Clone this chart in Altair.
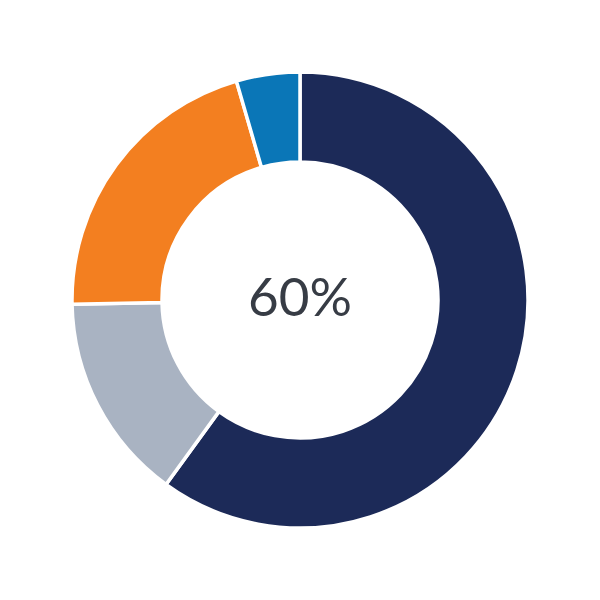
import altair as alt
import pandas as pd

categories = ["A", "B", "C", "D"]
values = [60, 14.7, 20.8, 4.5]
order = [1, 2, 3, 4]
colors = ["#1c2a58", "#a9b3c2", "#f37f20", "#0a76b7"]
center_label = ["60%"]

df = pd.DataFrame({"category": categories, "value": values, "order": order})

base = alt.Chart(df).encode(
    theta=alt.Theta("value:Q", stack=True),
    order=alt.Order("order:Q"),
    color=alt.Color("category:N", scale=alt.Scale(domain=categories, range=colors), legend=None),
)

arcs = base.mark_arc(outerRadius=228, innerRadius=138, stroke="white", strokeWidth=3.5)

text = alt.Chart(pd.DataFrame({"t": center_label})).mark_text(
    font="Lato", fontSize=53, fontWeight=400, color="#373c45", baseline="middle", align="center"
).encode(text="t:N", x=alt.value(292), y=alt.value(292))

chart = alt.layer(arcs, text).properties(
    width=584, height=584, autosize=alt.AutoSizeParams(type="none"), padding=0
).configure_view(stroke=None)

chart.save("out.html", embed_options={"renderer": "svg", "actions": False})
